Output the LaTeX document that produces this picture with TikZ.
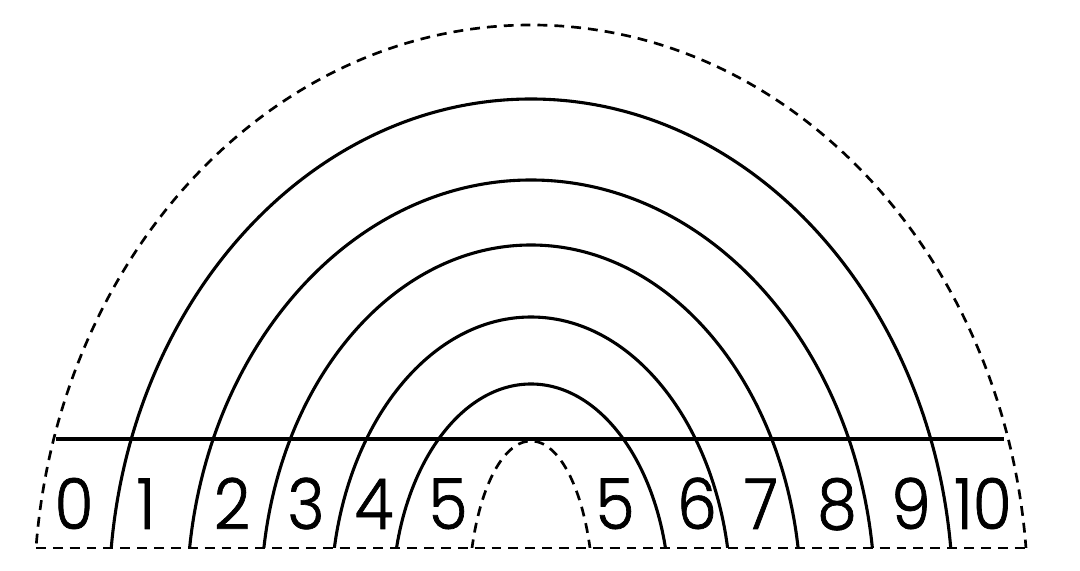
\documentclass[tikz,border=0pt]{standalone}
\usepackage{fontspec}
\setmainfont{Poppins}[UprightFont=* Light, FakeStretch=0.9, FakeBold=1]
\begin{document}
\begin{tikzpicture}[x=0.025cm, y=0.025cm]
        \tikzset{band/.style = {line width=2.2pt}}
        \tikzset{border/.style = {line width=1.9pt, dash pattern=on 7pt off 5pt}}
        \tikzset{digit/.style = {anchor=base, inner sep=0pt, font=\fontsize{50}{50}\selectfont}}
        \useasboundingbox (-531, 29) rectangle (549, 600);

        % arches, cut off at the base line
        \begin{scope}
          \clip (-600, 52) rectangle (600, 620);
          \draw[border] (0, 0) ellipse [x radius=497, y radius=575];
          \foreach \a/\b in {422/501, 344/420, 270/355, 200/283, 138.5/216}
            \draw[band] (0, 0) ellipse [x radius=\a, y radius=\b];
          \draw[border] (0, 0) ellipse [x radius=62.4, y radius=159];
        \end{scope}

        \coordinate (L) at (-475, 161);
        \coordinate (R) at (473, 161);
        \coordinate (BL) at (-495, 52);
        \coordinate (BR) at (495, 52);
        \draw[band] (L) -- (R);
        \draw[border] (BL) -- (BR);

        \node[digit] (n0) at (-457, 71) {0};
        \node[digit] (n1) at (-385, 71) {1};
        \node[digit] (n2) at (-299, 71) {2};
        \node[digit] (n3) at (-225, 71) {3};
        \node[digit] (n4) at (-157, 71) {4};
        \node[digit] (n5) at (-83, 71) {5};
        \node[digit] (m5) at (84, 71) {5};
        \node[digit] (n6) at (166, 71) {6};
        \node[digit] (n7) at (230, 71) {7};
        \node[digit] (n8) at (306, 71) {8};
        \node[digit] (n9) at (380, 71) {9};
        \node[digit] (n10) at (452, 71) {10};
      \end{tikzpicture}
\end{document}
